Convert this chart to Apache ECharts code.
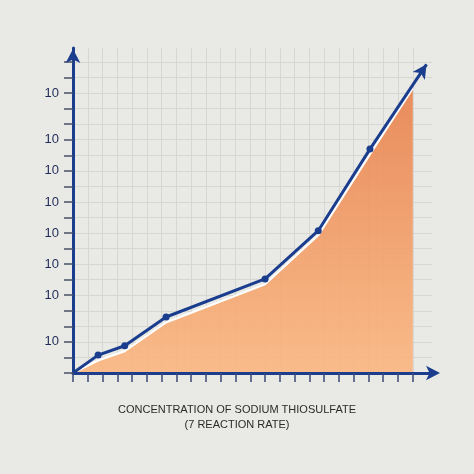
<!DOCTYPE html>
<html>
<head>
<meta charset="utf-8">
<script src="https://cdn.jsdelivr.net/npm/echarts@6/dist/echarts.min.js"></script>
<style>
  html, body { margin: 0; padding: 0; background: #e9e9e5; }
  #chart { width: 474px; height: 474px; }
</style>
</head>
<body>
<div id="chart"></div>
<script>
var chart_dom = document.getElementById('chart');
var chart = echarts.init(chart_dom, null, { renderer: 'canvas' });

// values (axis units: one grid square = 1)
var lineX = [0, 1.7, 3.5, 6.3, 13, 16.6, 20.1, 23.93];
var lineY = [0, 1.15, 1.75, 3.6, 6.05, 9.15, 14.4, 19.85];
var areaX = [0, 1.7, 3.5, 6.3, 13, 16.6, 20.1, 23];
var areaY = [0, 0.8, 1.4, 3.25, 5.7, 8.85, 14.05, 18.3];
var xTicks = [0, 1, 2, 3, 4, 5, 6, 7, 8, 9, 10, 11, 12, 13, 14, 15, 16, 17, 18, 19, 20, 21, 22, 23];
var yTicks = [0, 1, 2, 3, 4, 5, 6, 7, 8, 9, 10, 11, 12, 13, 14, 15, 16, 17, 18, 19, 20];
var yLabelTicks = [2, 5, 7, 9, 11, 13, 15, 18];
var yLabel = '10';
var xName = 'CONCENTRATION OF SODIUM THIOSULFATE\n(7 REACTION RATE)';

var navy = '#1b3d8e';
var gridColor = '#d6d6d2';
var xMax = 24.3;
var yMax = 20.9;

var lineData = lineX.map(function (x, i) {
  var item = { value: [x, lineY[i]] };
  if (i === 0) item.symbol = 'none';
  if (i === lineX.length - 1) {
    item.symbol = 'arrow';
    item.symbolSize = [11, 14];
    item.symbolRotate = -33.8;
  }
  return item;
});

var option = {
  backgroundColor: '#e9e9e5',
  animation: false,
  title: {
    text: xName,
    left: 'center',
    top: 397,
    textStyle: {
      fontFamily: 'Liberation Sans',
      fontSize: 11,
      fontWeight: 'normal',
      color: '#2b2b2b',
      lineHeight: 15
    }
  },
  grid: {
    left: 73,
    right: 42,
    top: 48,
    bottom: 101
  },
  xAxis: [
    {
      // grid lines only, under the series
      type: 'value',
      position: 'bottom',
      min: 0,
      max: xMax,
      interval: 1,
      axisLine: { show: false },
      axisTick: { show: false, customValues: xTicks },
      axisLabel: { show: false },
      splitLine: { show: true, lineStyle: { color: gridColor, width: 1 } }
    },
    {
      // axis line with arrow and ticks, above the series
      type: 'value',
      position: 'bottom',
      min: 0,
      max: xMax,
      interval: 1,
      z: 5,
      axisLine: {
        show: true,
        symbol: ['none', 'arrow'],
        symbolSize: [11, 14],
        symbolOffset: [0, 8],
        lineStyle: { color: navy, width: 3 }
      },
      axisTick: {
        show: true,
        customValues: xTicks,
        length: 9,
        lineStyle: { color: '#3b4a75', width: 1.5 }
      },
      axisLabel: { show: false },
      splitLine: { show: false }
    }
  ],
  yAxis: [
    {
      type: 'value',
      position: 'left',
      min: 0,
      max: yMax,
      interval: 1,
      axisLine: { show: false },
      axisTick: { show: false, customValues: yTicks },
      axisLabel: { show: false },
      splitLine: { show: true, lineStyle: { color: gridColor, width: 1 } }
    },
    {
      type: 'value',
      position: 'left',
      min: 0,
      max: yMax,
      interval: 1,
      z: 5,
      axisLine: {
        show: true,
        symbol: ['none', 'arrow'],
        symbolSize: [11, 14],
        symbolOffset: [0, -1],
        lineStyle: { color: navy, width: 3 }
      },
      axisTick: {
        show: true,
        customValues: yTicks,
        length: 9,
        lineStyle: { color: '#4a5066', width: 1.5 }
      },
      axisLabel: {
        show: true,
        customValues: yLabelTicks,
        formatter: function () { return yLabel; },
        margin: 14,
        fontFamily: 'Liberation Sans',
        fontSize: 13,
        color: '#1f2b58'
      },
      splitLine: { show: false }
    }
  ],
  series: [
    {
      type: 'line',
      xAxisIndex: 0,
      yAxisIndex: 0,
      data: areaX.map(function (x, i) { return [x, areaY[i]]; }),
      symbol: 'none',
      lineStyle: { color: '#ffffff', width: 2 },
      areaStyle: {
        opacity: 0.9,
        color: new echarts.graphic.LinearGradient(0, 1, 0, 0, [
          { offset: 0, color: '#fbb680' },
          { offset: 1, color: '#e9824d' }
        ])
      },
      z: 2
    },
    {
      type: 'line',
      xAxisIndex: 0,
      yAxisIndex: 0,
      data: lineData,
      symbol: 'circle',
      symbolSize: 7,
      lineStyle: { color: navy, width: 3 },
      itemStyle: { color: navy },
      z: 3
    }
  ]
};

chart.setOption(option);
window.addEventListener('resize', chart.resize);
</script>
</body>
</html>
